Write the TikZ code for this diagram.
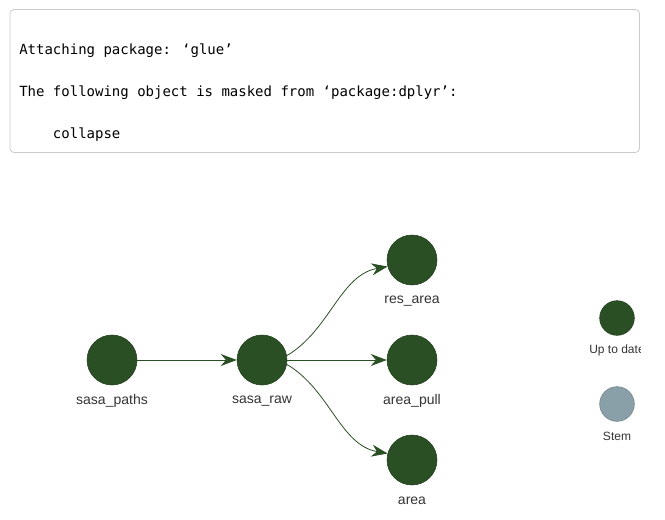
\documentclass[tikz,border=0pt]{standalone}
\usepackage{fontspec}
\setmainfont{Liberation Sans}
\newfontfamily\monof{DejaVu Sans Mono}
\usetikzlibrary{arrows.meta}
\definecolor{upd}{HTML}{2B4F25}
\definecolor{stem}{HTML}{8AA0A8}
\begin{document}
\begin{tikzpicture}[x=0.75pt,y=-0.75pt,
  tgt/.style={circle,fill=upd,draw=upd!80!black,minimum size=37.5pt,inner sep=0pt},
  lbl/.style={font=\fontsize{10.5pt}{12pt}\selectfont,text=black!80},
  edge/.style={draw=upd,line width=0.6pt,-{Stealth[length=12pt,width=9pt]}},
  code/.style={anchor=base west,inner sep=0pt,font=\monof\fontsize{10.5pt}{12pt}\selectfont}]
\useasboundingbox (0,0) rectangle (665,519);
\draw[black!20,rounded corners=3pt,line width=0.6pt] (10,9.5) rectangle (639.5,152.5);
\node[code] (l1) at (19,54) {Attaching package: ‘glue’};
\node[code] (l2) at (19,96) {The following object is masked from ‘package:dplyr’:};
\node[code] (l3) at (19,138) {\ \ \ \ collapse};
\node[tgt] (sp) at (112,360) {};
\node[tgt] (sr) at (262,360) {};
\node[tgt] (ra) at (412,260) {};
\node[tgt] (ap) at (412,360) {};
\node[tgt] (ar) at (412,460) {};
\node[lbl] (lsp) at (112,401) {sasa\_paths};
\node[lbl] (lsr) at (262,401) {sasa\_raw};
\node[lbl] (lra) at (412,301) {res\_area};
\node[lbl] (lap) at (412,401) {area\_pull};
\node[lbl] (lar) at (412,501) {area};
\draw[edge] (sp) -- (sr);
\draw[edge] (sr) -- (ap);
\draw[edge] (sr.10) .. controls (330,330) and (340,275) .. (ra.195);
\draw[edge] (sr.-10) .. controls (330,390) and (340,445) .. (ar.165);
\begin{scope}
\clip (560,280) rectangle (640,470);
\node[tgt,minimum size=26pt] (lu) at (617,318) {};
\node[circle,fill=stem,draw=stem!80!black,minimum size=26pt,inner sep=0pt] (ls) at (617,404) {};
\node[font=\fontsize{9pt}{10pt}\selectfont,text=black!80] (tu) at (617,350) {Up to date};
\node[font=\fontsize{9pt}{10pt}\selectfont,text=black!80] (ts) at (617,436) {Stem};
\end{scope}
\end{tikzpicture}
\end{document}
